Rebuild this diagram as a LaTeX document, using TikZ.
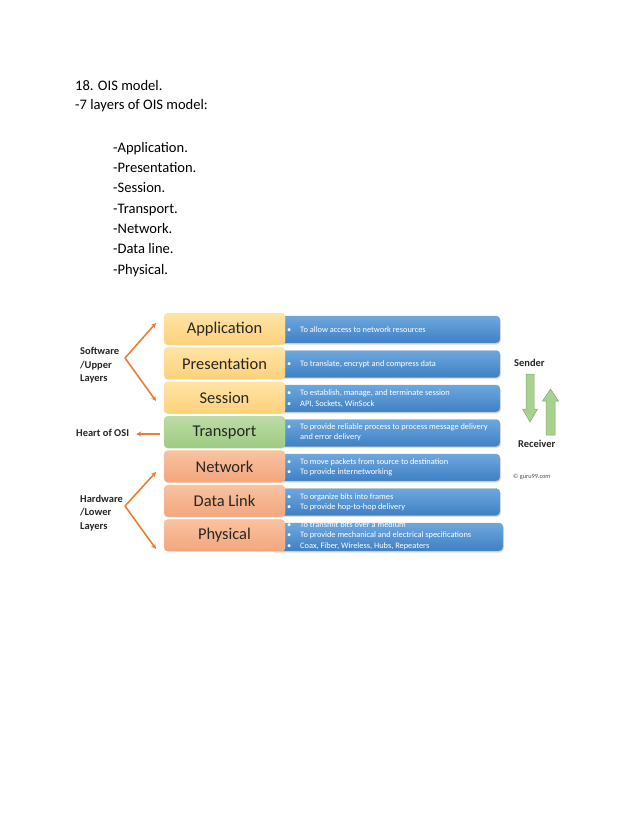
\documentclass[tikz,border=0pt]{standalone}
\usepackage{fontspec}
\setmainfont{Carlito}
\usetikzlibrary{arrows.meta, calc, shadows}

\definecolor{orline}{HTML}{ED7D31}
\definecolor{yelltop}{HTML}{FFE4A6}
\definecolor{yellbot}{HTML}{FDD07A}
\definecolor{grntop}{HTML}{BCDCA6}
\definecolor{grnbot}{HTML}{9DCB82}
\definecolor{saltop}{HTML}{F8C3A0}
\definecolor{salbot}{HTML}{F3A57C}
\definecolor{bluetop}{HTML}{6DA7DD}
\definecolor{bluebot}{HTML}{3F80C4}
\definecolor{grnarrow}{HTML}{A9D18E}

\tikzset{
  bodytext/.style={anchor=base west, inner sep=0pt, font=\fontsize{14.6}{17}\selectfont},
  layerbox/.style={rounded corners=4bp, minimum width=121bp, minimum height=32bp,
    inner sep=0pt, font=\fontsize{16.5}{18}\selectfont, text=black!85},
  infobox/.style={rounded corners=4bp, inner sep=0pt, top color=bluetop, bottom color=bluebot,
    draw=bluebot!80!black!60, drop shadow={opacity=0.25, shadow xshift=1bp, shadow yshift=-1.5bp}},
  infotext/.style={anchor=west, align=left, inner sep=0pt, text=white,
    font=\fontsize{8.4}{10.4}\selectfont},
  sidelabel/.style={align=left, inner sep=0pt, font=\fontsize{10.5}{13.5}\selectfont\bfseries, text=black!85},
  orarrow/.style={draw=orline, line width=1.6bp, -{Stealth[length=5bp,width=5bp]}},
  greenarrow/.style={fill=grnarrow, draw=grnarrow!80!black, line width=0.5bp}
}
\newcommand{\bul}[1]{\makebox[13bp][l]{\textbullet}#1}

\begin{document}
\begin{tikzpicture}[x=1bp, y=-1bp]
    \useasboundingbox (0,0) rectangle (638,826);

    % Text above the diagram
    \node[bodytext] (title) at (75,90.7) {18. OIS model.};
    \node[bodytext] (subtitle) at (75,109.7) {-7 layers of OIS model:};
    \foreach \item [count=\i] in {Application, Presentation, Session, Transport, Network, Data line, Physical} {
        \node[bodytext] (item\i) at (113,152+20.35*\i-20.35) {-\item.};
    }

    % Blue description boxes (behind the layers)
    \foreach \i in {1,...,6} {
        \path[infobox] (270,316+34.5*\i-34.5) rectangle (500,343+34.5*\i-34.5);
    }
    \path[infobox] (270,523) rectangle (503,551);

    \node[infotext] (d1) at (287,329.5) {\bul{To allow access to network resources}};
    \node[infotext] (d2) at (287,364) {\bul{To translate, encrypt and compress data}};
    \node[infotext] (d3) at (287,398.5) {\bul{To establish, manage, and terminate session}\\\bul{API, Sockets, WinSock}};
    \node[infotext] (d4) at (287,432) {\bul{To provide reliable process to process message delivery}\\\makebox[13bp]{}and error delivery};
    \node[infotext] (d5) at (287,467.5) {\bul{To move packets from source to destination}\\\bul{To provide internetworking}};
    \node[infotext] (d6) at (287,502) {\bul{To organize bits into frames}\\\bul{To provide hop-to-hop delivery}};
    \node[infotext] (d7) at (287,535.5) {\bul{To transmit bits over a medium}\\\bul{To provide mechanical and electrical specifications}\\\bul{Coax, Fiber, Wireless, Hubs, Repeaters}};

    % The seven layers
    \node[layerbox, top color=yelltop, bottom color=yellbot, draw=yellbot!60] (app) at (224.5,329) {Application};
    \node[layerbox, top color=yelltop, bottom color=yellbot, draw=yellbot!60] (pres) at (224.5,363.4) {Presentation};
    \node[layerbox, top color=yelltop, bottom color=yellbot, draw=yellbot!60] (sess) at (224.5,397.8) {Session};
    \node[layerbox, top color=grntop, bottom color=grnbot, draw=grnbot!70] (trans) at (224.5,432.2) {Transport};
    \node[layerbox, top color=saltop, bottom color=salbot, draw=salbot!60] (net) at (224.5,466.6) {Network};
    \node[layerbox, top color=saltop, bottom color=salbot, draw=salbot!60] (link) at (224.5,501) {Data Link};
    \node[layerbox, top color=saltop, bottom color=salbot, draw=salbot!60] (phys) at (224.5,535.4) {Physical};

    % Labels on the left
    \node[sidelabel, anchor=west] (soft) at (80,365.5) {Software\\/Upper\\Layers};
    \node[sidelabel, anchor=west] (heart) at (76,433) {Heart of OSI};
    \node[sidelabel, anchor=west] (hard) at (80,513) {Hardware\\/Lower\\Layers};

    % Orange arrows
    \coordinate (swtip) at (125,358);
    \coordinate (swup) at (156,323);
    \coordinate (swdown) at (156,401);
    \coordinate (hwtip) at (125,506);
    \coordinate (hwup) at (156,472);
    \coordinate (hwdown) at (156,549);
    \draw[orarrow] (swtip) -- (swup);
    \draw[orarrow] (swtip) -- (swdown);
    \draw[orarrow] (hwtip) -- (hwup);
    \draw[orarrow] (hwtip) -- (hwdown);
    \draw[orarrow] ($(trans.west)+(-4,1.8)$) -- ($(heart.east)+(7,1)$);

    % Sender / Receiver
    \node[sidelabel, anchor=west] (send) at (514,363) {Sender};
    \node[sidelabel, anchor=west] (recv) at (518,444) {Receiver};
    \draw[greenarrow] (526,374) -- (534,374) -- (534,409) -- (537.5,409) -- (530,422) -- (522.5,409) -- (526,409) -- cycle;
    \draw[greenarrow] (546,435) -- (555,435) -- (555,401) -- (558.5,401) -- (550.5,389) -- (542.5,401) -- (546,401) -- cycle;
    \node[anchor=west, inner sep=0pt, font=\fontsize{6.3}{7}\selectfont, text=black!70] (src) at (513,477) {© guru99.com};
\end{tikzpicture}
\end{document}
